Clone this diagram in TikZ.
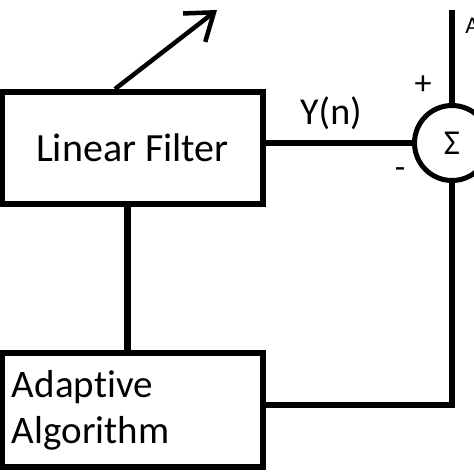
\documentclass[tikz,border=0pt]{standalone}
\usepackage{fontspec}
\setmainfont{Carlito}[Ligatures=NoCommon]
\usetikzlibrary{arrows.meta}
\begin{document}
\begin{tikzpicture}[x=1pt, y=-1pt, line width=6.5pt,
    bloco/.style={draw, rectangle, minimum width=261pt, inner sep=0pt},
    soma/.style={draw, circle, line width=5pt, minimum size=75pt, inner sep=0pt}]
    \useasboundingbox (0,0) rectangle (474,474);
    \clip (0,0) rectangle (474,474);
    % Blocos
    \node[bloco, minimum height=112pt, font=\fontsize{40}{46}\selectfont] (filtro) at (132.5,148) {Linear Filter\hspace{13pt}};
    \node[bloco, minimum height=114pt, align=left, text width=241pt, inner xsep=10pt,
          font=\fontsize{39}{46}\selectfont] (algo) at (132.5,410) {Adaptive\\Algorithm};
    \node[soma, font=\fontsize{35}{40}\selectfont] (sigma) at (452,143) {Σ};
    % Sinais
    \coordinate (topo) at (452,10);
    \node[anchor=base west, inner sep=0pt, font=\fontsize{24}{28}\selectfont] (entrada) at (462,33) {A};
    \node[font=\fontsize{38}{44}\selectfont] (saida) at (331,113) {Y(n)};
    \node[font=\fontsize{34}{40}\selectfont] (mais) at (423,85) {+};
    \node[font=\fontsize{34}{40}\selectfont] (menos) at (400,173) {-};
    % Ligações
    \draw (topo) -- (sigma.north);
    \draw (sigma.west) -- (sigma.west -| filtro.east);
    \draw ([xshift=-5pt]filtro.south) -- ([xshift=-5pt]algo.north);
    \draw (sigma.south) |- ([yshift=5pt]algo.east);
    % Seta de ajuste
    \coordinate (ponta) at (217,10);
    \draw[line width=4.5pt, -{Straight Barb[length=25pt, width=36pt]}] (115,89) -- (ponta);
\end{tikzpicture}
\end{document}
